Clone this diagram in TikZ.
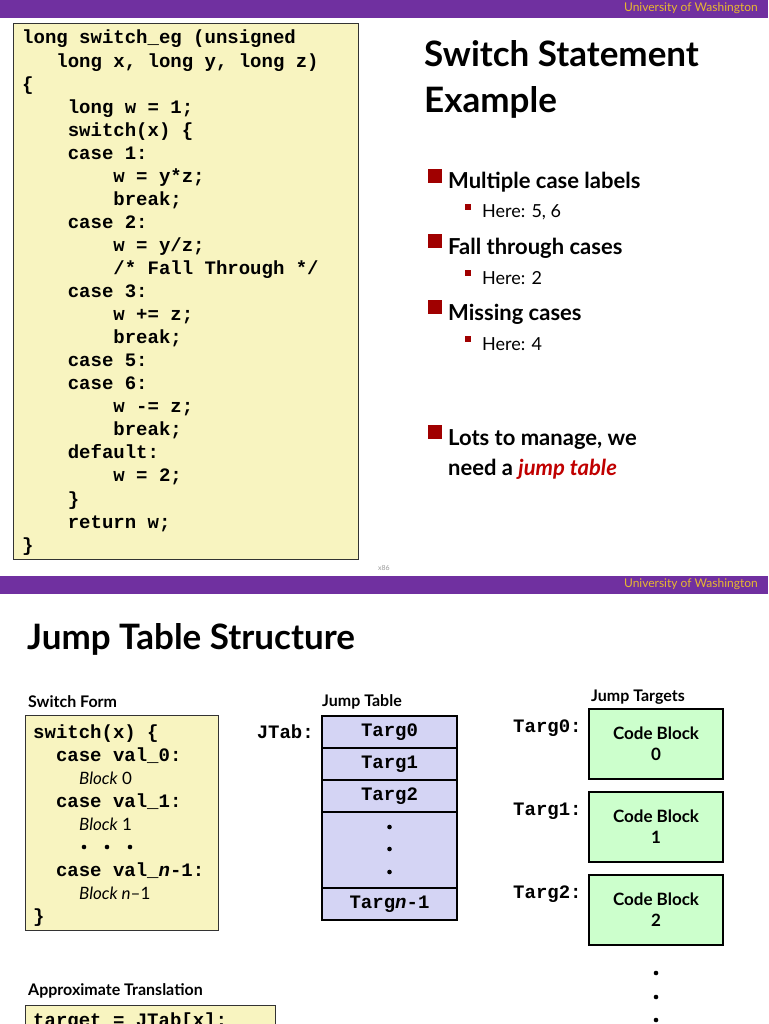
\documentclass[tikz,border=0pt]{standalone}
\usepackage{fontspec}
\setmainfont{Lato}
\setmonofont{Liberation Mono}
\definecolor{uwpurple}{HTML}{7030A0}
\definecolor{uwgold}{HTML}{E8B830}
\definecolor{codey}{HTML}{F8F4C0}
\definecolor{jtblue}{HTML}{D4D4F4}
\definecolor{cbgreen}{HTML}{CCFFCC}
\definecolor{bred}{HTML}{A00000}
\definecolor{jred}{HTML}{C00000}
\newcommand\cl[3]{\node[codetxt,anchor=base west] (c#2) at (22+11.4*#1,#2+6) {#3};}
\newcommand\cm[3]{\node[codetxt,anchor=base west] (d#2) at (33+11.4*#1,#2+6) {#3};}
\begin{document}
\begin{tikzpicture}[x=1pt,y=-1pt,
  codetxt/.style={inner sep=0pt,font=\fontsize{19}{19}\selectfont\ttfamily\bfseries},
  codebox/.style={draw=black!80,fill=codey,line width=0.8pt},
  band/.style={fill=uwpurple},
  uw/.style={text=uwgold,font=\fontsize{12}{12}\selectfont,anchor=east,inner sep=0pt},
  ttl/.style={font=\fontsize{35}{35}\selectfont\bfseries,anchor=base west,inner sep=0pt},
  btxt/.style={font=\fontsize{22}{22}\selectfont\bfseries,anchor=base west,inner sep=0pt},
  stxt/.style={font=\fontsize{18}{18}\selectfont,anchor=base west,inner sep=0pt},
  lbl/.style={font=\fontsize{16}{16}\selectfont\bfseries,anchor=base west,inner sep=0pt},
  cell/.style={draw=black,line width=1.2pt,fill=jtblue},
  cellt/.style={font=\fontsize{19}{19}\selectfont\ttfamily\bfseries,inner sep=0pt},
  cb/.style={draw=black,line width=1.2pt,fill=cbgreen,minimum width=134pt,minimum height=70pt,align=center,font=\fontsize{17}{21}\selectfont\bfseries,inner sep=0pt},
  dot/.style={fill=black,circle,inner sep=0pt,minimum size=5pt}]
\useasboundingbox (0,0) rectangle (768,1024);
% slide 1
\fill[band] (0,0) rectangle (768,18);
\node[uw] (uw1) at (758,8) {University of Washington};
\draw[codebox] (13,23) rectangle (358,559);
\cl{0}{38}{long switch\_eg (unsigned}
\cl{3}{61.05}{long x, long y, long z)}
\cl{0}{84.1}{\{}
\cl{4}{107.15}{long w = 1;}
\cl{4}{130.2}{switch(x) \{}
\cl{4}{153.25}{case 1:}
\cl{8}{176.3}{w = y*z;}
\cl{8}{199.35}{break;}
\cl{4}{222.4}{case 2:}
\cl{8}{245.45}{w = y/z;}
\cl{8}{268.5}{/* Fall Through */}
\cl{4}{291.55}{case 3:}
\cl{8}{314.6}{w += z;}
\cl{8}{337.65}{break;}
\cl{4}{360.7}{case 5:}
\cl{4}{383.75}{case 6:}
\cl{8}{406.8}{w -= z;}
\cl{8}{429.85}{break;}
\cl{4}{452.9}{default:}
\cl{8}{475.95}{w = 2;}
\cl{4}{499}{\}}
\cl{4}{522.05}{return w;}
\cl{0}{545.1}{\}}
\node[ttl] (t1a) at (424,67) {Switch Statement};
\node[ttl] (t1b) at (424,113) {Example};
\foreach \yy/\nm/\tx in {181/b1/Multiple case labels,246/b2/Fall through cases,312/b3/Missing cases,437/b4/{Lots to manage, we}}{
  \fill[bred] (428,\yy-12) rectangle (442,\yy+2);
  \node[btxt] (\nm) at (448,\yy+8) {\tx};
}
\node[btxt] (b5) at (448,475) {need a \textcolor{jred}{\itshape jump table}};
\foreach \yy/\nm/\tx in {212/s1/{Here: 5, 6},278/s2/Here: 2,344/s3/Here: 4}{
  \fill[bred] (465,\yy-8) rectangle (471,\yy-2);
  \node[stxt] (\nm) at (482,\yy+6) {\tx};
}
\node[font=\fontsize{7}{7}\selectfont,text=black!40,inner sep=0pt] (x86) at (384,568) {x86};
% slide 2
\fill[band] (0,576) rectangle (768,594);
\node[uw] (uw2) at (758,584) {University of Washington};
\node[ttl] (t2) at (27,649) {Jump Table Structure};
\node[lbl] (sf) at (28,707) {Switch Form};
\draw[codebox] (25,715) rectangle (218,930);
\cm{0}{732}{switch(x) \{}
\cm{2}{755}{case val\_0:}
\node[font=\fontsize{17}{17}\selectfont,anchor=base west,inner sep=0pt] (bk0) at (79,784) {\textit{Block} 0};
\cm{2}{801}{case val\_1:}
\node[font=\fontsize{17}{17}\selectfont,anchor=base west,inner sep=0pt] (bk1) at (79,830) {\textit{Block} 1};
\foreach \xx in {84,107,130}{\fill (\xx,847) circle (2.3pt);}
\cm{2}{870}{case val\_\textit{n}-1:}
\node[font=\fontsize{17}{17}\selectfont,anchor=base west,inner sep=0pt] (bkn) at (79,899) {\textit{Block n}–1};
\cm{0}{916}{\}}
\node[lbl] (jtl) at (322,706) {Jump Table};
\node[cellt,anchor=base east] (jtab) at (314,738) {JTab:};
\draw[cell] (322,716) rectangle (457,748) node[cellt,midway] (j0) {Targ0};
\draw[cell] (322,748) rectangle (457,780) node[cellt,midway] (j1) {Targ1};
\draw[cell] (322,780) rectangle (457,812) node[cellt,midway] (j2) {Targ2};
\draw[cell] (322,812) rectangle (457,888);
\foreach \yy in {827,849,872}{\fill (389.5,\yy) circle (2.3pt);}
\draw[cell] (322,888) rectangle (457,920) node[cellt,midway] (jn) {Targ\textit{n}-1};
\node[lbl] (jtg) at (591,701) {Jump Targets};
\node[cb] (cb0) at (656,744) {Code Block\\0};
\node[cb] (cb1) at (656,827) {Code Block\\1};
\node[cb] (cb2) at (656,910) {Code Block\\2};
\node[cellt,anchor=base west] (l0) at (513,732) {Targ0:};
\node[cellt,anchor=base west] (l1) at (513,815) {Targ1:};
\node[cellt,anchor=base west] (l2) at (513,898) {Targ2:};
\foreach \yy in {973,997,1020}{\fill (656,\yy) circle (2.3pt);}
\node[lbl] (at) at (28,995) {Approximate Translation};
\draw[codebox] (25,1005) rectangle (275,1040);
\node[codetxt,anchor=base west] (tg) at (33,1026) {target = JTab[x];};
\end{tikzpicture}
\end{document}
